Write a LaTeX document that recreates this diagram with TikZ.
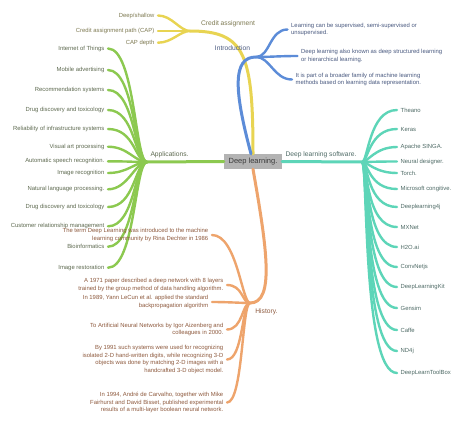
\documentclass[tikz,border=0pt]{standalone}
\usepackage{fontspec}
\setsansfont{Liberation Sans}
\usetikzlibrary{arrows}

\definecolor{rootGray}{HTML}{B3B3B3}
\definecolor{rootText}{HTML}{3A3A3A}
\definecolor{appLine}{HTML}{8CC950}
\definecolor{appText}{HTML}{5E6A50}
\definecolor{creditLine}{HTML}{E8D452}
\definecolor{creditText}{HTML}{7E7A52}
\definecolor{introLine}{HTML}{5C8CD8}
\definecolor{introText}{HTML}{4A5A80}
\definecolor{softLine}{HTML}{5DD5B8}
\definecolor{softText}{HTML}{4F6B66}
\definecolor{histLine}{HTML}{EEA46C}
\definecolor{histText}{HTML}{8E5A3E}

\begin{document}
\begin{tikzpicture}[x = 1pt, y = -1pt, font = \sffamily]
	\tikzstyle{leafText} = [font = \sffamily\fontsize{5.9}{7.7}\selectfont, inner xsep = 3.5pt, inner ysep = 1pt]
	\tikzstyle{leftLeaf} = [leafText, anchor = east, align = right]
	\tikzstyle{rightLeaf} = [leafText, anchor = west, align = left]
	\tikzstyle{branchText} = [font = \sffamily\fontsize{6.7}{8}\selectfont, inner sep = 0pt]
	\tikzstyle{trunk} = [line width = 3pt, line cap = round]
	\tikzstyle{twig} = [line width = 2.4pt, line cap = round]
	\tikzstyle{twigLeft} = [twig, out = 180, in = 0]
	\tikzstyle{twigRight} = [twig, out = 0, in = 180]
	\useasboundingbox (0, 0) rectangle (474, 429);
	\fill[white] (0, 0) rectangle (474, 429);
	\node[fill = rootGray, text = rootText, font = \sffamily\fontsize{7.5}{9}\selectfont, minimum width = 58pt, minimum height = 15pt, inner sep = 0pt] (dl) at (253, 161.5) {Deep learning.};
	% applications
	\coordinate (ha) at (147, 162);
	\node[branchText, text = appText] (lApp) at (169.5, 154.5) {Applications.};
	\node[leftLeaf, text = appText] (a0) at (108, 48.5) {Internet of Things};
	\node[leftLeaf, text = appText] (a1) at (108, 70) {Mobile advertising};
	\node[leftLeaf, text = appText] (a2) at (108, 90) {Recommendation systems};
	\node[leftLeaf, text = appText] (a3) at (108, 110) {Drug discovery and toxicology};
	\node[leftLeaf, text = appText] (a4) at (108, 129) {Reliability of infrastructure systems};
	\node[leftLeaf, text = appText] (a5) at (108, 146.7) {Visual art processing};
	\node[leftLeaf, text = appText] (a6) at (108, 161.3) {Automatic speech recognition.};
	\node[leftLeaf, text = appText] (a7) at (108, 173) {Image recognition};
	\node[leftLeaf, text = appText] (a8) at (108, 189.3) {Natural language processing.};
	\node[leftLeaf, text = appText] (a9) at (108, 207) {Drug discovery and toxicology};
	\node[leftLeaf, text = appText] (a10) at (108, 226.3) {Customer relationship management};
	\node[leftLeaf, text = appText] (a11) at (108, 246.7) {Bioinformatics};
	\node[leftLeaf, text = appText] (a12) at (108, 267.7) {Image restoration};
	\draw[trunk, appLine] (dl.west) -- (ha);
	\draw[twigLeft, appLine, out distance = 12pt, in distance = 27pt] (ha) to (a0.east);
	\draw[twigLeft, appLine, out distance = 12pt, in distance = 27pt] (ha) to (a1.east);
	\draw[twigLeft, appLine, out distance = 12pt, in distance = 27pt] (ha) to (a2.east);
	\draw[twigLeft, appLine, out distance = 12pt, in distance = 27pt] (ha) to (a3.east);
	\draw[twigLeft, appLine, out distance = 12pt, in distance = 27pt] (ha) to (a4.east);
	\draw[twigLeft, appLine, out distance = 12pt, in distance = 20pt] (ha) to (a5.east);
	\draw[twigLeft, appLine, out distance = 12pt, in distance = 20pt] (ha) to (a6.east);
	\draw[twigLeft, appLine, out distance = 12pt, in distance = 20pt] (ha) to (a7.east);
	\draw[twigLeft, appLine, out distance = 12pt, in distance = 20pt] (ha) to (a8.east);
	\draw[twigLeft, appLine, out distance = 12pt, in distance = 27pt] (ha) to (a9.east);
	\draw[twigLeft, appLine, out distance = 12pt, in distance = 27pt] (ha) to (a10.east);
	\draw[twigLeft, appLine, out distance = 12pt, in distance = 27pt] (ha) to (a11.east);
	\draw[twigLeft, appLine, out distance = 12pt, in distance = 27pt] (ha) to (a12.east);
	% credit assignment
	\coordinate (hc) at (190, 31);
	\node[branchText, text = creditText] (lCredit) at (228, 24) {Credit assignment};
	\node[leftLeaf, text = creditText] (c0) at (158, 15.5) {Deep/shallow};
	\node[leftLeaf, text = creditText] (c1) at (158, 31) {Credit assignment path (CAP)};
	\node[leftLeaf, text = creditText] (c2) at (158, 42.7) {CAP depth};
	\draw[trunk, creditLine] (dl.north) to[out = 90, in = 0, out distance = 100pt, in distance = 55pt] (hc);
	\draw[twigLeft, creditLine, out distance = 10pt, in distance = 14pt] (hc) to (c0.east);
	\draw[twigLeft, creditLine, out distance = 10pt, in distance = 14pt] (hc) to (c1.east);
	\draw[twigLeft, creditLine, out distance = 10pt, in distance = 14pt] (hc) to (c2.east);
	% introduction
	\coordinate (hi) at (256, 57);
	\node[branchText, text = introText] (lIntro) at (232.5, 48) {Introduction};
	\node[rightLeaf, text = introText] (i0) at (287.5, 29.5) {Learning can be supervised, semi-supervised or\\unsupervised.};
	\node[rightLeaf, text = introText] (i1) at (297.5, 56) {Deep learning also known as deep structured learning\\or hierarchical learning.};
	\node[rightLeaf, text = introText] (i2) at (292, 79.5) {It is part of a broader family of machine learning\\methods based on learning data representation.};
	\draw[trunk, introLine] ([xshift = -2pt]dl.north) to[out = 105, in = 180, out distance = 65pt, in distance = 24pt] (hi);
	\draw[twigRight, introLine, out distance = 14pt, in distance = 18pt] (hi) to (i0.west);
	\draw[twigRight, introLine, out distance = 14pt, in distance = 18pt] (hi) to (i1.west);
	\draw[twigRight, introLine, out distance = 14pt, in distance = 18pt] (hi) to (i2.west);
	% software
	\coordinate (hs) at (362, 162);
	\node[branchText, text = softText] (lSoft) at (321, 154.5) {Deep learning software.};
	\node[rightLeaf, text = softText] (s0) at (397, 110) {Theano};
	\node[rightLeaf, text = softText] (s1) at (397, 129) {Keras};
	\node[rightLeaf, text = softText] (s2) at (397, 147) {Apache SINGA.};
	\node[rightLeaf, text = softText] (s3) at (397, 161.5) {Neural designer.};
	\node[rightLeaf, text = softText] (s4) at (397, 173) {Torch.};
	\node[rightLeaf, text = softText] (s5) at (397, 189) {Microsoft congitive.};
	\node[rightLeaf, text = softText] (s6) at (397, 207) {Deeplearning4j};
	\node[rightLeaf, text = softText] (s7) at (397, 227) {MXNet};
	\node[rightLeaf, text = softText] (s8) at (397, 247) {H2O.ai};
	\node[rightLeaf, text = softText] (s9) at (397, 267) {ConvNetjs};
	\node[rightLeaf, text = softText] (s10) at (397, 287) {DeepLearningKit};
	\node[rightLeaf, text = softText] (s11) at (397, 308) {Gensim};
	\node[rightLeaf, text = softText] (s12) at (397, 330) {Caffe};
	\node[rightLeaf, text = softText] (s13) at (397, 351) {ND4j};
	\node[rightLeaf, text = softText] (s14) at (397, 373) {DeepLearnToolBox};
	\draw[trunk, softLine] (dl.east) -- (hs);
	\draw[twigRight, softLine, out distance = 6pt, in distance = 28pt] (hs) to (s0.west);
	\draw[twigRight, softLine, out distance = 6pt, in distance = 28pt] (hs) to (s1.west);
	\draw[twigRight, softLine, out distance = 6pt, in distance = 22pt] (hs) to (s2.west);
	\draw[twigRight, softLine, out distance = 6pt, in distance = 22pt] (hs) to (s3.west);
	\draw[twigRight, softLine, out distance = 6pt, in distance = 22pt] (hs) to (s4.west);
	\draw[twigRight, softLine, out distance = 6pt, in distance = 28pt] (hs) to (s5.west);
	\draw[twigRight, softLine, out distance = 6pt, in distance = 30pt] (hs) to (s6.west);
	\draw[twigRight, softLine, out distance = 6pt, in distance = 32pt] (hs) to (s7.west);
	\draw[twigRight, softLine, out distance = 6pt, in distance = 32pt] (hs) to (s8.west);
	\draw[twigRight, softLine, out distance = 6pt, in distance = 33pt] (hs) to (s9.west);
	\draw[twigRight, softLine, out distance = 6pt, in distance = 33pt] (hs) to (s10.west);
	\draw[twigRight, softLine, out distance = 6pt, in distance = 34pt] (hs) to (s11.west);
	\draw[twigRight, softLine, out distance = 6pt, in distance = 34pt] (hs) to (s12.west);
	\draw[twigRight, softLine, out distance = 6pt, in distance = 34pt] (hs) to (s13.west);
	\draw[twigRight, softLine, out distance = 6pt, in distance = 35pt] (hs) to (s14.west);
	% history
	\coordinate (hh) at (250, 303);
	\node[branchText, text = histText] (lHist) at (266.5, 312) {History.};
	\node[leftLeaf, text = histText] (h0) at (212, 235) {The term Deep Learning was introduced to the machine\\learning community by Rina Dechter in 1986};
	\node[leftLeaf, text = histText] (h1) at (227, 285) {A 1971 paper described a deep network with 8 layers\\trained by the group method of data handling algorithm.};
	\node[leftLeaf, text = histText] (h2) at (212, 302) {In 1989, Yann LeCun et al. applied the standard\\backpropagation algorithm};
	\node[leftLeaf, text = histText] (h3) at (227, 329.5) {To Artificial Neural Networks by Igor Aizenberg and\\colleagues in 2000.};
	\node[leftLeaf, text = histText] (h4) at (227, 359.5) {By 1991 such systems were used for recognizing\\isolated 2-D hand-written digits, while recognizing 3-D\\objects was done by matching 2-D images with a\\handcrafted 3-D object model.};
	\node[leftLeaf, text = histText] (h5) at (227, 402.5) {In 1994, Andr\'e de Carvalho, together with Mike\\Fairhurst and David Bisset, published experimental\\results of a multi-layer boolean neural network.};
	\draw[trunk, histLine] (dl.south) to[out = -80, in = 0, out distance = 80pt, in distance = 25pt] (hh);
	\draw[twigLeft, histLine, out distance = 8pt, in distance = 25pt] (hh) to (h0.east);
	\draw[twigLeft, histLine, out distance = 8pt, in distance = 16pt] (hh) to (h1.east);
	\draw[twigLeft, histLine, out distance = 8pt, in distance = 16pt] (hh) to (h2.east);
	\draw[twigLeft, histLine, out distance = 8pt, in distance = 16pt] (hh) to (h3.east);
	\draw[twigLeft, histLine, out distance = 8pt, in distance = 16pt] (hh) to (h4.east);
	\draw[twigLeft, histLine, out distance = 8pt, in distance = 16pt] (hh) to (h5.east);
\end{tikzpicture}
\end{document}
